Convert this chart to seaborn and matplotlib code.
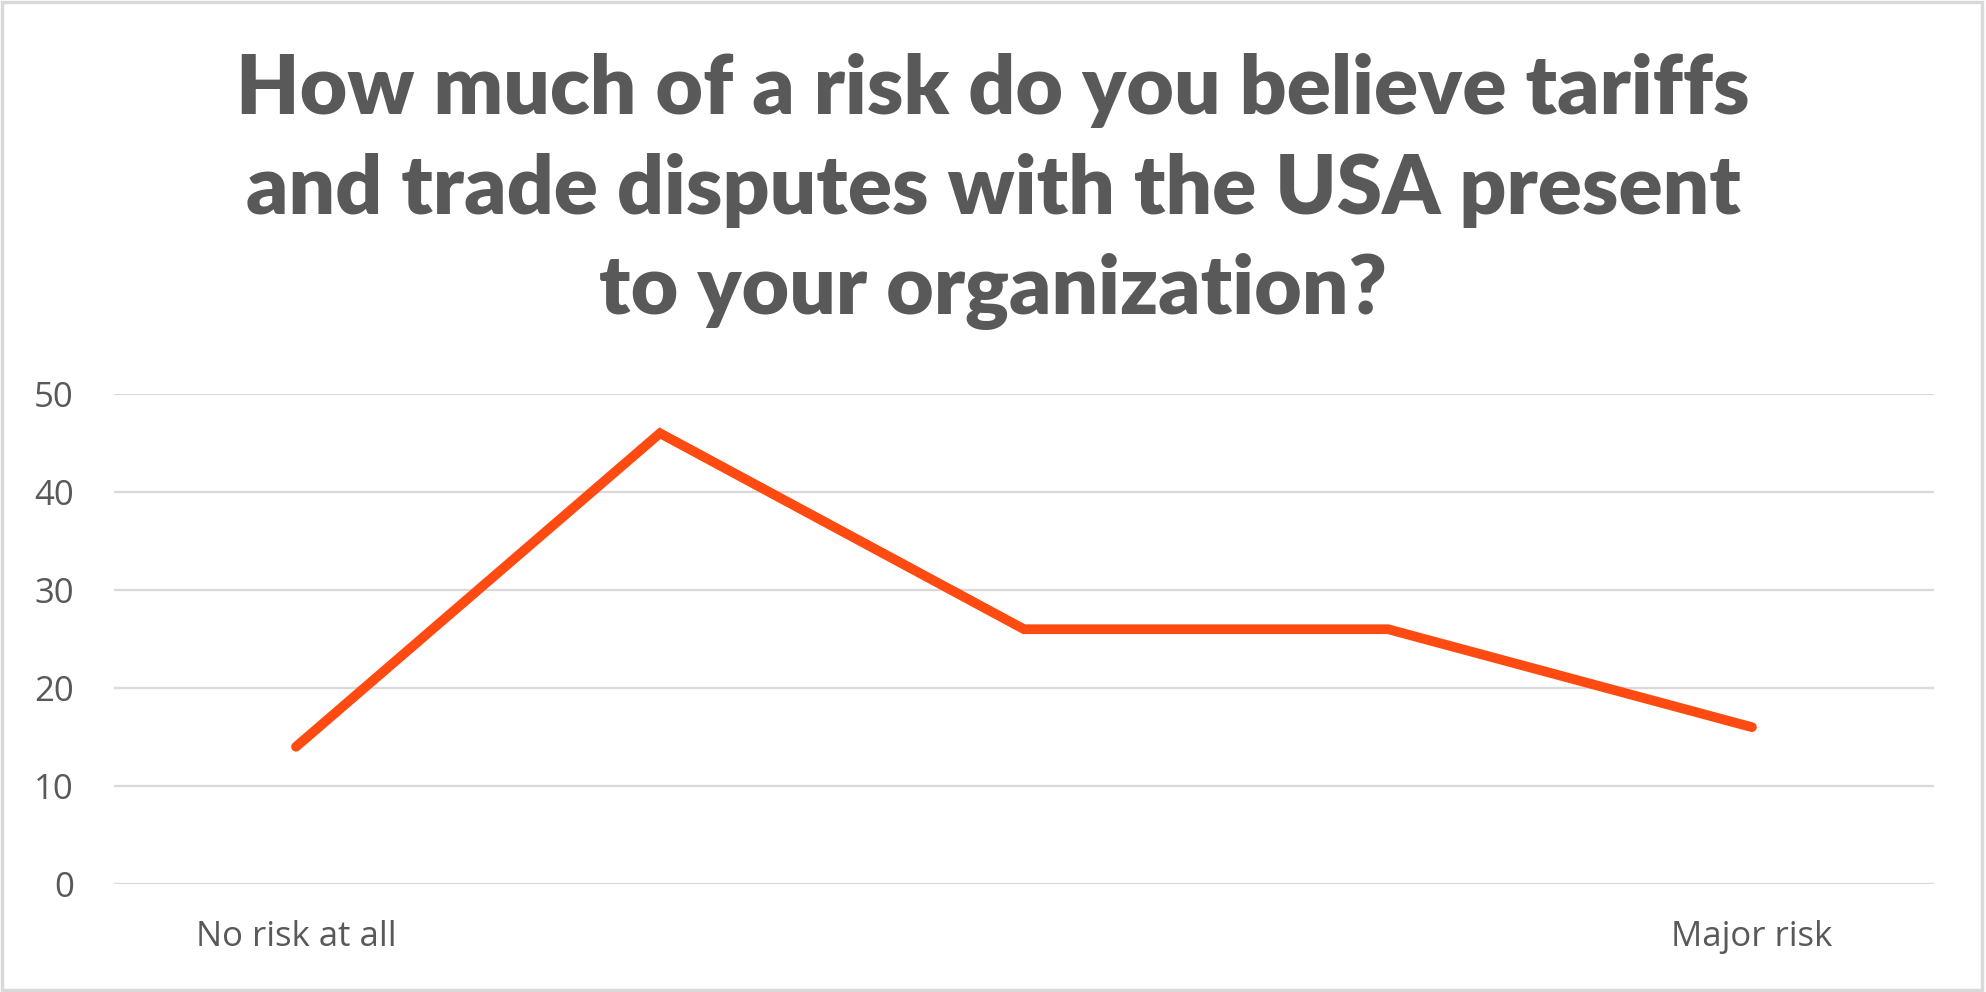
import matplotlib
matplotlib.use("Agg")
import matplotlib.pyplot as plt
import seaborn as sns
import pandas as pd
from matplotlib.patches import Rectangle

# Risk scale (1 = no risk at all ... 5 = major risk) and responses
scale = [1, 2, 3, 4, 5]
responses = [14, 46, 26, 26, 16]
tick_labels = ["No risk at all", "", "", "", "Major risk"]
y_ticks = [0, 10, 20, 30, 40, 50]

title = ("How much of a risk do you believe tariffs\n"
         "and trade disputes with the USA present\n"
         "to your organization?")

df = pd.DataFrame({"scale": scale, "responses": responses})

sns.set_style("white")
plt.rcParams['font.family'] = ['Open Sans', 'DejaVu Sans']

grey = "#595959"
fig = plt.figure(figsize=(19.86, 9.92), dpi=100)
ax = fig.add_axes([0.0574, 0.1089, 0.9164, 0.4939])

sns.lineplot(data=df, x="scale", y="responses", ax=ax, color="#FF4B12",
             linewidth=7, solid_capstyle="round", solid_joinstyle="miter")

ax.set_xlim(0.5, 5.5)
ax.set_ylim(0, 50)
ax.set_yticks(y_ticks)
ax.set_xticks(scale)
ax.set_xticklabels(tick_labels)
ax.yaxis.grid(True, color="#D9D9D9", linewidth=1.6)
ax.set_axisbelow(True)
sns.despine(ax=ax, left=True, bottom=True)
ax.tick_params(axis="y", length=0, pad=29, labelsize=25, labelcolor=grey)
ax.tick_params(axis="x", length=0, pad=26, labelsize=25, labelcolor=grey)
ax.set_xlabel("")
ax.set_ylabel("")

fig.text(0.5, 0.947, title, ha="center", va="top", fontsize=59,
         fontweight="heavy", color=grey, linespacing=1.41,
         family=['Lato', 'DejaVu Sans'])

# light chart border
fig.patches.append(Rectangle((0.001, 0.002), 0.997, 0.996, transform=fig.transFigure,
                             fill=False, edgecolor="#D9D9D9", linewidth=2.5))

fig.savefig("out.png", dpi=100)
